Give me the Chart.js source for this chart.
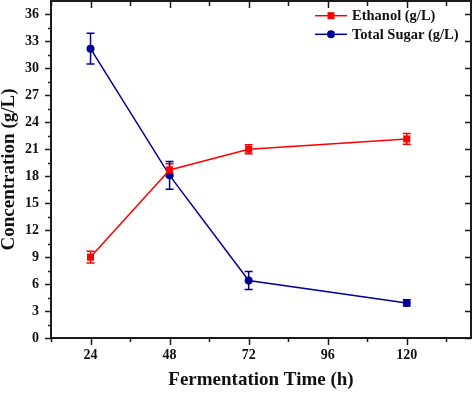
<!DOCTYPE html>
<html><head><meta charset="utf-8">
<script src="https://cdn.jsdelivr.net/npm/chart.js@4"></script>
<style>html,body{margin:0;padding:0;background:#fff}#wrap{width:474px;height:396px}</style>
</head><body><div id="wrap"><canvas id="c" width="474" height="396"></canvas></div>
<script>
// ---- data ----
const times = [24, 48, 72, 120];
const ethanol = [9.0, 18.7, 21.0, 22.15];
const ethanolErr = [0.65, 0.7, 0.5, 0.6];
const sugar = [32.2, 18.1, 6.4, 3.9];
const sugarErr = [1.7, 1.55, 1.0, 0.35];
const xTickValues = [24, 48, 72, 96, 120];
const xMinorTicks = [12, 36, 60, 84, 108, 132];
const yTickValues = [0, 3, 6, 9, 12, 15, 18, 21, 24, 27, 30, 33, 36];
const yMinorTicks = [1.5, 4.5, 7.5, 10.5, 13.5, 16.5, 19.5, 22.5, 25.5, 28.5, 31.5, 34.5];
const seriesLabels = ['Ethanol (g/L)', 'Total Sugar (g/L)'];

const RED = '#ff0000', BLUE = '#000099', AXIS = '#1a1a1a';
const FONT = '"Liberation Serif", "Times New Roman", serif';

const errs = [ethanolErr, sugarErr];

const deco = {
  id: 'deco',
  beforeDatasetsDraw(chart) {
    const ctx = chart.ctx, xs = chart.scales.x, ys = chart.scales.y;
    chart.data.datasets.forEach((ds, di) => {
      ctx.save();
      ctx.strokeStyle = ds.borderColor; ctx.lineWidth = 1.5;
      ds.data.forEach((p, i) => {
        const e = errs[di][i];
        const x = xs.getPixelForValue(p.x);
        const y1 = ys.getPixelForValue(p.y + e), y2 = ys.getPixelForValue(p.y - e);
        ctx.beginPath();
        ctx.moveTo(x, y1); ctx.lineTo(x, y2);
        ctx.moveTo(x - 4, y1); ctx.lineTo(x + 4, y1);
        ctx.moveTo(x - 4, y2); ctx.lineTo(x + 4, y2);
        ctx.stroke();
      });
      ctx.restore();
    });
  },
  afterDraw(chart) {
    const ctx = chart.ctx, a = chart.chartArea, xs = chart.scales.x, ys = chart.scales.y;
    ctx.save();
    ctx.strokeStyle = AXIS; ctx.lineWidth = 2;
    ctx.strokeRect(a.left, a.top, a.right - a.left, a.bottom - a.top);
    ctx.lineWidth = 1.5;
    ctx.beginPath();
    yTickValues.forEach(v => {
      const y = Math.round(ys.getPixelForValue(v)) + 0.5;
      ctx.moveTo(a.left, y); ctx.lineTo(a.left - 6, y);
      ctx.moveTo(a.right, y); ctx.lineTo(a.right - 6, y);
    });
    yMinorTicks.forEach(v => {
      const y = Math.round(ys.getPixelForValue(v)) + 0.5;
      ctx.moveTo(a.left, y); ctx.lineTo(a.left - 3, y);
    });
    xTickValues.forEach(v => {
      const x = Math.round(xs.getPixelForValue(v)) + 0.5;
      ctx.moveTo(x, a.bottom); ctx.lineTo(x, a.bottom + 7);
      ctx.moveTo(x, a.top); ctx.lineTo(x, a.top + 7);
    });
    xMinorTicks.forEach(v => {
      const x = Math.round(xs.getPixelForValue(v)) + 0.5;
      ctx.moveTo(x, a.bottom); ctx.lineTo(x, a.bottom + 4);
      ctx.moveTo(x, a.top); ctx.lineTo(x, a.top + 5);
    });
    ctx.stroke();

    // legend
    const rows = [15.7, 34.3];
    chart.data.datasets.forEach((ds, i) => {
      const y = rows[i];
      ctx.strokeStyle = ds.borderColor; ctx.lineWidth = 1.5;
      ctx.beginPath(); ctx.moveTo(315, y); ctx.lineTo(347, y); ctx.stroke();
      ctx.fillStyle = ds.borderColor;
      if (ds.pointStyle === 'rect') { ctx.fillRect(331 - 3.5, y - 3.5, 7, 7); }
      else { ctx.beginPath(); ctx.arc(331, y, 4, 0, Math.PI * 2); ctx.fill(); }
      ctx.fillStyle = '#111';
      ctx.font = 'bold 14.5px ' + FONT;
      ctx.textBaseline = 'middle'; ctx.textAlign = 'left';
      ctx.fillText(ds.label, 352, y + 0.5);
    });
    ctx.restore();
  }
};

new Chart(document.getElementById('c'), {
  type: 'line',
  data: {
    datasets: [
      { label: seriesLabels[0], data: times.map((t, i) => ({x: t, y: ethanol[i]})),
        borderColor: RED, backgroundColor: RED, borderWidth: 1.5, pointStyle: 'rect',
        pointRadius: 5, pointHoverRadius: 5, pointBorderWidth: 0, tension: 0 },
      { label: seriesLabels[1], data: times.map((t, i) => ({x: t, y: sugar[i]})),
        borderColor: BLUE, backgroundColor: BLUE, borderWidth: 1.5, pointStyle: 'circle',
        pointRadius: 4, pointHoverRadius: 4, pointBorderWidth: 0, tension: 0 }
    ]
  },
  options: {
    responsive: false, animation: false, devicePixelRatio: 1,
    layout: { autoPadding: false, padding: { left: 0, right: 3, top: 1, bottom: 0 } },
    plugins: { legend: { display: false }, tooltip: { enabled: false } },
    scales: {
      x: {
        type: 'linear', min: 12, max: 139.5,
        afterBuildTicks: s => { s.ticks = xTickValues.map(v => ({value: v})); },
        afterFit: s => { s.height = 58; s.paddingLeft = 0; s.paddingRight = 0; },
        grid: { display: false, drawTicks: false }, border: { display: false },
        ticks: { padding: 9, color: '#111', font: { family: FONT, weight: 'bold', size: 14 }, maxRotation: 0 },
        title: { display: true, text: 'Fermentation Time (h)', color: '#111',
          font: { family: FONT, weight: 'bold', size: 19, lineHeight: 1 }, padding: { top: 0, bottom: 6.5 } }
      },
      y: {
        type: 'linear', min: 0, max: 37.5,
        afterBuildTicks: s => { s.ticks = yTickValues.map(v => ({value: v})); },
        afterFit: s => { s.width = 51; s.paddingTop = 0; s.paddingBottom = 0; },
        grid: { display: false, drawTicks: false }, border: { display: false },
        ticks: { padding: 12, color: '#111', font: { family: FONT, weight: 'bold', size: 14 } },
        title: { display: true, text: 'Concentration (g/L)', color: '#111',
          font: { family: FONT, weight: 'bold', size: 19, lineHeight: 1 }, padding: { top: 0, bottom: 0 } }
      }
    }
  },
  plugins: [deco]
});
</script></body></html>
